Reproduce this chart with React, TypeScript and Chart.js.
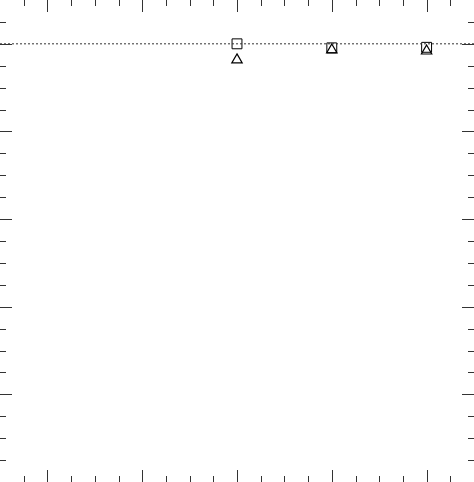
import { useEffect, useRef } from "react";
import { Chart, registerables } from "chart.js";

Chart.register(...registerables);

// x positions of the markers (major tick units)
const xPositions = [2, 3, 4];
// square marker series
const squareValues = [0, -0.046, -0.04];
// triangle marker series
const triangleValues = [-0.183, -0.07, -0.082];
// dotted reference level
const refLevel = 0;

// axis ranges and tick steps
const xMin = -0.5;
const xMax = 4.5;
const yMin = -5;
const yMax = 0.5;
const minorStep = 0.25;
const majorStep = 1;

const inwardTicks = {
  id: "inwardTicks",
  afterDatasetsDraw(chart: any) {
    const { ctx, chartArea, scales } = chart;
    const xs = scales.x;
    const ys = scales.y;
    ctx.save();
    ctx.strokeStyle = "#333";
    ctx.lineWidth = 1;
    ctx.beginPath();
    const n = Math.round((xMax - xMin) / minorStep);
    for (let i = 1; i < n; i++) {
      const v = xMin + i * minorStep;
      const major = Math.abs(v / majorStep - Math.round(v / majorStep)) < 1e-6;
      const len = major ? 12 : 6;
      const px = Math.round(xs.getPixelForValue(v)) + 0.5;
      ctx.moveTo(px, chartArea.top);
      ctx.lineTo(px, chartArea.top + len);
      ctx.moveTo(px, chartArea.bottom);
      ctx.lineTo(px, chartArea.bottom - len);
    }
    const m = Math.round((yMax - yMin) / minorStep);
    for (let i = 1; i < m; i++) {
      const v = yMin + i * minorStep;
      const major = Math.abs(v / majorStep - Math.round(v / majorStep)) < 1e-6;
      const len = major ? 12 : 6;
      const py = Math.round(ys.getPixelForValue(v)) + 0.5;
      ctx.moveTo(chartArea.left, py);
      ctx.lineTo(chartArea.left + len, py);
      ctx.moveTo(chartArea.right, py);
      ctx.lineTo(chartArea.right - len, py);
    }
    ctx.stroke();
    ctx.restore();
  },
};

const App = () => {
  const chartRef: any = useRef(null);
  useEffect(() => {
    document.body.style.margin = "0";
    document.body.style.overflow = "hidden";
    const ctx = chartRef.current.getContext("2d");

    const theChart = new Chart(ctx, {
      type: "scatter",
      data: {
        datasets: [
          {
            type: "line",
            label: "reference",
            data: [
              { x: xMin, y: refLevel },
              { x: xMax, y: refLevel },
            ],
            borderColor: "#333",
            borderWidth: 1,
            borderDash: [2, 2],
            pointRadius: 0,
          },
          {
            label: "squares",
            data: xPositions.map((x, i) => ({ x, y: squareValues[i] })),
            pointStyle: "rect",
            pointRadius: 7,
            borderColor: "#000",
            backgroundColor: "rgba(0,0,0,0)",
            borderWidth: 1,
          },
          {
            label: "triangles",
            data: xPositions.map((x, i) => ({ x, y: triangleValues[i] })),
            pointStyle: "triangle",
            pointRadius: 6,
            borderColor: "#000",
            backgroundColor: "rgba(0,0,0,0)",
            borderWidth: 1.2,
          },
        ],
      },
      options: {
        responsive: false,
        animation: false,
        layout: { padding: 0, autoPadding: false },
        plugins: {
          legend: { display: false },
          tooltip: { enabled: false },
        },
        scales: {
          x: { type: "linear", min: xMin, max: xMax, display: false },
          y: { type: "linear", min: yMin, max: yMax, display: false },
        },
      },
      plugins: [inwardTicks],
    } as any);

    return () => { theChart.destroy() }
  }, []);

  return (
    <div style={{ width: 474, height: 482, background: "#fff" }}>
      <canvas ref={chartRef} width={474} height={482} style={{ display: "block" }} />
    </div>
  );
};

export default App;
